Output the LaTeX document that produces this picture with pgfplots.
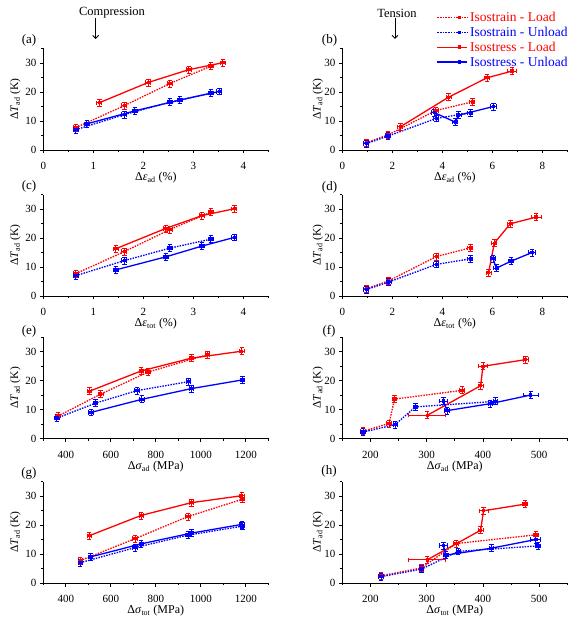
\documentclass[border=0pt]{standalone}
\usepackage{fontspec}
\setmainfont{Liberation Serif}
\usepackage{pgfplots}
\pgfplotsset{compat=1.18}
\usetikzlibrary{arrows.meta}

\pgfplotsset{
  panel/.style={
    scale only axis, width=225pt, height=101.5pt, anchor=south west,
    axis x line*=bottom, axis y line*=left,
    axis line style={line width=0.8pt},
    tick align=outside,
    major tick length=3.5pt, minor tick length=2.2pt,
    every tick/.style={black, line width=0.8pt},
    ymin=0, ymax=35, ytick={0,10,20,30}, minor ytick={5,15,25,35},
    tick label style={font=\fontsize{11}{12}\selectfont},
    xticklabel style={anchor=center, inner sep=0pt, yshift=-12.5pt},
    xlabel style={font=\fontsize{12}{13}\selectfont, inner sep=0pt, at={(axis description cs:0.5,0)}, anchor=center, yshift=-28pt},
    ylabel style={font=\fontsize{11.5}{13}\selectfont, inner sep=0pt, at={(axis description cs:0,0.5)}, anchor=center},
    /pgf/number format/assume math mode=true,
    /pgf/number format/1000 sep={},
    scaled ticks=false,
    ylabel={Δ\textit{T}\textsubscript{ad} (K)},
    clip=false,
  },
  % the y label is rotated, so its own y direction points left
  left col/.style={ylabel style={yshift=28pt}},
  right col/.style={ylabel style={yshift=24.5pt}},
  strainC/.style={xmin=0, xmax=4.5, xtick={0,1,2,3,4}, minor xtick={0.5,1.5,2.5,3.5,4.5}},
  strainT/.style={xmin=0, xmax=9, xtick={0,2,4,6,8}, minor xtick={1,3,5,7,9}},
  stressC/.style={xmin=300, xmax=1300, xtick={400,600,800,1000,1200}, minor xtick={300,500,700,900,1100,1300}},
  stressT/.style={xmin=150, xmax=550, xtick={200,300,400,500}, minor xtick={150,250,350,450,550}},
  % line appearance of the four test modes
  lSL/.style={red, line width=1.3pt, dash pattern=on 1.5pt off 1.2pt, mark=square*, mark size=1.05pt, mark options={solid}},
  lSU/.style={blue, line width=1.3pt, dash pattern=on 1.5pt off 1.2pt, mark=square*, mark size=1.05pt, mark options={solid}},
  lTL/.style={red, line width=1.3pt, solid, mark=square*, mark size=1.05pt},
  lTU/.style={blue, line width=1.3pt, solid, mark=square*, mark size=1.05pt},
  errs/.style={error bars/x dir=both, error bars/x explicit, error bars/y dir=both, error bars/y explicit,
    error bars/error bar style={solid, line width=0.8pt},
    error bars/error mark options={solid, rotate=90, mark size=2.2pt, line width=0.8pt}},
  SL/.style={lSL, errs}, SU/.style={lSU, errs},
  TL/.style={lTL, errs}, TU/.style={lTU, errs},
}

\begin{document}
\begin{tikzpicture}
\path[use as bounding box] (0pt,0pt) rectangle (575pt,619pt);

% (a) compression, adiabatic strain
\begin{axis}[panel, left col, strainC, at={(43.3pt,469pt)}, xlabel={Δ\textit{ε}\textsubscript{ad} (\%)}]
\addplot[SL] coordinates {(0.65,7.7) +- (0.05,1.2) (1.62,15.3) +- (0.05,1.2) (2.53,22.9) +- (0.05,1.2) (3.35,28.9) +- (0.05,1.2)};
\addplot[SU] coordinates {(0.65,7.0) +- (0.05,1.2) (1.62,12.2) +- (0.05,1.2) (2.53,16.5) +- (0.05,1.2) (3.35,19.6) +- (0.05,1.2)};
\addplot[TL] coordinates {(1.12,16.3) +- (0.05,1.2) (2.10,23.3) +- (0.05,1.2) (2.91,27.7) +- (0.05,1.2) (3.59,30.1) +- (0.05,1.2)};
\addplot[TU] coordinates {(0.87,9.0) +- (0.05,1.2) (1.83,13.5) +- (0.05,1.2) (2.73,17.2) +- (0.05,1.2) (3.52,20.2) +- (0.05,1.2)};
\end{axis}

% (b) tension, adiabatic strain
\begin{axis}[panel, right col, strainT, at={(342.3pt,469pt)}, xlabel={Δ\textit{ε}\textsubscript{ad} (\%)},
  legend style={at={(0.418,1.38)}, anchor=north west, draw=none, fill=none,
    font=\fontsize{13.5}{14}\selectfont, row sep=0pt, inner sep=0pt},
  legend cell align=left,
  legend image code/.code={\draw[mark repeat=2, mark phase=2, line width=1.5pt, #1] plot coordinates {(0pt,0pt) (22pt,0pt) (30pt,0pt)};}]
\addlegendimage{lSL}\addlegendentry{\textcolor{red}{Isostrain - Load}}
\addlegendimage{lSU}\addlegendentry{\textcolor{blue}{Isostrain - Unload}}
\addlegendimage{lTL}\addlegendentry{\textcolor{red}{Isostress - Load}}
\addlegendimage{lTU}\addlegendentry{\textcolor{blue}{Isostress - Unload}}
\addplot[forget plot, SL] coordinates {(0.96,2.5) +- (0.1,1.2) (1.83,5.2) +- (0.1,1.2) (3.74,13.6) +- (0.1,1.2) (5.20,16.6) +- (0.1,1.2)};
\addplot[forget plot, SU] coordinates {(0.96,2.2) +- (0.1,1.2) (1.83,4.8) +- (0.1,1.2) (3.76,10.9) +- (0.1,1.2) (5.12,12.8) +- (0.1,1.2)};
\addplot[forget plot, TL] coordinates {(2.32,8.0) +- (0.1,1.2) (4.25,18.2) +- (0.1,1.2) (5.79,24.9) +- (0.1,1.2) (6.79,27.2) +- (0.17,1.2)};
\addplot[forget plot, TU] coordinates {(3.68,12.9) +- (0.1,1.2) (4.52,9.6) +- (0.1,1.2) (4.65,12.0) +- (0.1,1.2) (6.05,15.0) +- (0.12,1.2)};
\end{axis}

% (c) compression, total strain
\begin{axis}[panel, left col, strainC, at={(43.3pt,323pt)}, xlabel={Δ\textit{ε}\textsubscript{tot} (\%)}]
\addplot[SL] coordinates {(0.65,7.7) +- (0.05,1.2) (1.62,15.3) +- (0.05,1.2) (2.53,22.9) +- (0.05,1.2) (3.35,28.9) +- (0.05,1.2)};
\addplot[SU] coordinates {(0.65,7.0) +- (0.05,1.2) (1.62,12.2) +- (0.05,1.2) (2.53,16.5) +- (0.05,1.2) (3.35,19.6) +- (0.05,1.2)};
\addplot[TL] coordinates {(1.45,16.3) +- (0.05,1.2) (2.45,23.3) +- (0.05,1.2) (3.17,27.7) +- (0.05,1.2) (3.82,30.1) +- (0.05,1.2)};
\addplot[TU] coordinates {(1.45,9.0) +- (0.05,1.2) (2.45,13.5) +- (0.05,1.2) (3.17,17.2) +- (0.05,1.2) (3.82,20.2) +- (0.05,1.2)};
\end{axis}

% (d) tension, total strain
\begin{axis}[panel, right col, strainT, at={(342.3pt,323pt)}, xlabel={Δ\textit{ε}\textsubscript{tot} (\%)}]
\addplot[SL] coordinates {(0.96,2.5) +- (0.1,1.2) (1.85,5.2) +- (0.1,1.2) (3.76,13.6) +- (0.1,1.2) (5.12,16.6) +- (0.1,1.2)};
\addplot[SU] coordinates {(0.96,2.2) +- (0.1,1.2) (1.85,4.8) +- (0.1,1.2) (3.76,10.9) +- (0.1,1.2) (5.12,12.8) +- (0.1,1.2)};
\addplot[TL] coordinates {(5.85,8.0) +- (0.1,1.2) (6.08,18.2) +- (0.1,1.2) (6.72,24.9) +- (0.1,1.2) (7.75,27.2) +- (0.2,1.2)};
\addplot[TU] coordinates {(6.03,12.9) +- (0.1,1.2) (6.16,9.6) +- (0.1,1.2) (6.75,12.0) +- (0.1,1.2) (7.59,15.0) +- (0.13,1.2)};
\end{axis}

% (e) compression, adiabatic stress
\begin{axis}[panel, left col, stressC, at={(43.3pt,180.5pt)}, xlabel={Δ\textit{σ}\textsubscript{ad} (MPa)}]
\addplot[SL] coordinates {(365,7.7) +- (10,1.2) (555,15.3) +- (10,1.2) (765,22.9) +- (10,1.2) (1029,28.9) +- (10,1.2)};
\addplot[SU] coordinates {(360,7.0) +- (10,1.2) (532,12.2) +- (10,1.2) (716,16.5) +- (10,1.2) (945,19.6) +- (10,1.2)};
\addplot[TL] coordinates {(505,16.3) +- (10,1.2) (735,23.3) +- (10,1.2) (958,27.7) +- (10,1.2) (1182,30.1) +- (10,1.2)};
\addplot[TU] coordinates {(512,9.0) +- (10,1.2) (738,13.5) +- (10,1.2) (958,17.2) +- (10,1.2) (1185,20.2) +- (10,1.2)};
\end{axis}

% (f) tension, adiabatic stress
\begin{axis}[panel, right col, stressT, at={(342.3pt,180.5pt)}, xlabel={Δ\textit{σ}\textsubscript{ad} (MPa)}]
\addplot[SL] coordinates {(187,2.5) +- (4,1.2) (233,5.2) +- (4,1.2) (243,13.6) +- (4,1.2) (363,16.6) +- (4,1.2)};
\addplot[SU] coordinates {(187,2.2) +- (4,1.2) (244,4.8) +- (4,1.2) (280,10.9) +- (4,1.2) (422,12.8) +- (4,1.2)};
\addplot[TL] coordinates {(301,8.0) +- (33,1.2) (396,18.2) +- (4,1.2) (400,24.9) +- (8,1.2) (476,27.2) +- (4,1.2)};
\addplot[TU] coordinates {(330,12.9) +- (7,1.2) (336,9.6) +- (4,1.2) (413,12.0) +- (4,1.2) (485,15.0) +- (13,1.2)};
\end{axis}

% (g) compression, total stress
\begin{axis}[panel, left col, stressC, at={(43.3pt,36pt)}, xlabel={Δ\textit{σ}\textsubscript{tot} (MPa)}]
\addplot[SL] coordinates {(464,7.7) +- (10,1.2) (708,15.3) +- (10,1.2) (943,22.9) +- (10,1.2) (1185,28.9) +- (10,1.2)};
\addplot[SU] coordinates {(464,7.0) +- (10,1.2) (708,12.2) +- (10,1.2) (943,16.5) +- (10,1.2) (1185,19.6) +- (10,1.2)};
\addplot[TL] coordinates {(504,16.3) +- (10,1.2) (735,23.3) +- (10,1.2) (958,27.7) +- (10,1.2) (1182,30.1) +- (10,1.2)};
\addplot[TU] coordinates {(510,9.0) +- (10,1.2) (735,13.5) +- (10,1.2) (958,17.2) +- (10,1.2) (1182,20.2) +- (10,1.2)};
\end{axis}

% (h) tension, total stress
\begin{axis}[panel, right col, stressT, at={(342.3pt,36pt)}, xlabel={Δ\textit{σ}\textsubscript{tot} (MPa)}]
\addplot[SL] coordinates {(219,2.5) +- (4,1.2) (291,5.2) +- (4,1.2) (352,13.6) +- (4,1.2) (494,16.6) +- (4,1.2)};
\addplot[SU] coordinates {(219,2.2) +- (4,1.2) (291,4.8) +- (4,1.2) (356,10.9) +- (4,1.2) (498,12.8) +- (4,1.2)};
\addplot[TL] coordinates {(301,8.0) +- (33,1.2) (396,18.2) +- (4,1.2) (401,24.9) +- (8,1.2) (475,27.2) +- (4,1.2)};
\addplot[TU] coordinates {(330,12.9) +- (7,1.2) (334,9.6) +- (4,1.2) (415,12.0) +- (4,1.2) (494,15.0) +- (9,1.2)};
\end{axis}

% panel letters
\begin{scope}[every node/.style={font=\fontsize{13}{14}\selectfont, inner sep=0pt}]
\node at (29pt,579pt) {(a)};
\node at (329.5pt,579pt) {(b)};
\node at (29pt,432.3pt) {(c)};
\node at (329.5pt,432pt) {(d)};
\node at (29pt,287.5pt) {(e)};
\node at (329pt,288pt) {(f)};
\node at (29pt,146pt) {(g)};
\node at (329pt,147.5pt) {(h)};
\end{scope}

% loading-mode headers
\node[font=\fontsize{12.5}{13}\selectfont, inner sep=0pt] at (112pt,606pt) {Compression};
\draw[line width=0.9pt, -{Straight Barb[length=3pt,width=6pt]}] (95.7pt,601pt) -- (95.7pt,580pt);
\node[font=\fontsize{12.5}{13}\selectfont, inner sep=0pt] at (397pt,606pt) {Tension};
\draw[line width=0.9pt, -{Straight Barb[length=3pt,width=6pt]}] (395pt,601pt) -- (395pt,580pt);
\end{tikzpicture}
\end{document}
